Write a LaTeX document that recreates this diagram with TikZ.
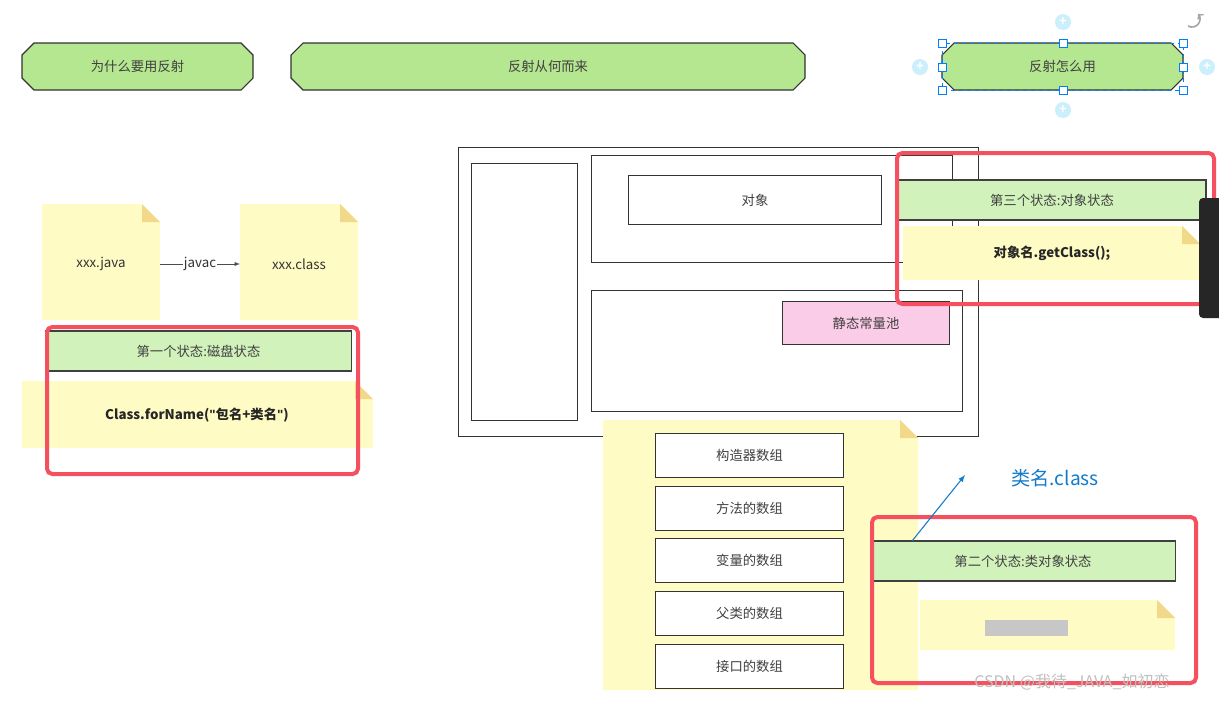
\documentclass[tikz,border=0pt]{standalone}
\usepackage{fontspec}
\setmainfont{Noto Sans CJK SC}
\newfontfamily\lat{Liberation Sans}
\begin{document}
\begin{tikzpicture}[x=0.75pt,y=-0.75pt,
  oct/.style={draw=black!80,fill=octc,line width=0.8pt},
  bar/.style={draw=black!75,fill=barc,line width=0.8pt,minimum height=30pt,font=\normalsize,text=black!75},
  box/.style={draw=black!80,fill=white,line width=0.7pt,font=\normalsize,text=black!75},
  red/.style={draw=redc,line width=3pt,rounded corners=4pt},
  handle/.style={draw=blue!50!cyan,fill=white,line width=0.6pt,minimum size=6pt,inner sep=0pt},
  plus/.style={circle,fill=cyan!20,minimum size=12pt,inner sep=0pt,text=white,font=\bfseries\small}]
\definecolor{octc}{HTML}{B5E690}
\definecolor{barc}{HTML}{D2F2BC}
\definecolor{redc}{HTML}{F5505F}
\useasboundingbox (0,0) rectangle (1219,700);
\fill[white] (0,0) rectangle (1219,700);
\definecolor{note}{HTML}{FFFBC4}
\definecolor{fold}{HTML}{F2D98A}
\def\note#1#2#3#4#5{\fill[note] (#1,#2) -- (#3-18,#2) -- (#3,#2+18) -- (#3,#4) -- (#1,#4) -- cycle;
  \fill[fold] (#3-18,#2) -- (#3,#2+18) -- (#3-18,#2+18) -- cycle;
  \node (#5) at ({(#1+#3)/2},{(#2+#4)/2}) {};}
\def\octag#1#2#3#4#5#6{\draw[oct] (#1+12,#2) -- (#3-12,#2) -- (#3,#2+12) -- (#3,#4-12) -- (#3-12,#4) -- (#1+12,#4) -- (#1,#4-12) -- (#1,#2+12) -- cycle;
  \node[font=\normalsize,text=black!75] (#6) at ({(#1+#3)/2},{(#2+#4)/2}) {#5};}
\octag{22}{43}{253}{90}{为什么要用反射}{t1}
\octag{291}{43}{805}{90}{反射从何而来}{t2}
\octag{942}{43}{1183}{90}{反射怎么用}{t3}
\draw[blue!50!cyan,dashed,line width=0.5pt] (942,43) rectangle (1183,90);
\foreach \p in {(942,43),(1063,43),(1183,43),(942,67),(1183,67),(942,90),(1063,90),(1183,90)} \node[handle] at \p {};
\foreach \p/\n in {(1063,22)/pa,(1063,110)/pb,(920,67)/pc,(1207,67)/pd} \node[plus] (\n) at \p {+};
\draw[gray!70,line width=1.2pt,->] (1188,26) arc (120:-40:8);
% left
\note{42}{204}{160}{320}{nj}
\node[font=\normalsize,text=black!80] (j) at (101,264) {xxx.java};
\note{240}{204}{358}{320}{nc}
\node[font=\normalsize,text=black!80] (c) at (299,264) {xxx.class};
\draw[black!70,-latex] (160,264) -- node[fill=white,inner sep=1pt,font=\normalsize,text=black!80] {javac} (240,264);
\node[bar,minimum width=230pt] (b1) at (198.5,351) {第一个状态:磁盘状态};
\note{22}{381}{373}{448}{n1}
\node[font=\normalsize\bfseries,text=black!85] (f1) at (197,415) {Class.forName({\lat"}包名+类名{\lat"})};
\draw[red] (47,327) rectangle (358,474);
% middle memory
\draw[box] (458,147) rectangle (978,436);
\draw[box] (471,163) rectangle (577,420);
\draw[box] (591,155) rectangle (952,262);
\node[box,minimum width=190pt,minimum height=37pt] (obj) at (755,200) {对象};
\draw[box] (591,290) rectangle (962,411);
\node[box,fill=magenta!20,minimum width=125pt,minimum height=32pt] (pool) at (866,323) {静态常量池};
\note{603}{420}{918}{690}{nb}
\foreach \y/\t/\n in {455/构造器数组/a1,508/方法的数组/a2,560/变量的数组/a3,613/父类的数组/a4,666/接口的数组/a5}
  \node[box,minimum width=141pt,minimum height=33pt] (\n) at (749.5,\y) {\t};
% third state
\node[bar,minimum width=231pt] (b3) at (1052,200) {第三个状态:对象状态};
\note{903}{226}{1200}{280}{n3}
\node[font=\normalsize\bfseries,text=black!85] (g3) at (1052,253) {对象名.getClass();};
\draw[red] (897,153) rectangle (1214,304);
\fill[black!85,rounded corners=3pt] (1199,198) rectangle (1225,318);
% second state
\node[bar,minimum width=229pt] (b2) at (1023,561) {第二个状态:类对象状态};
\note{920}{600}{1175}{650}{n2}
\fill[black!22] (985,620) rectangle (1068,636);
\draw[red] (872,517) rectangle (1196,683);
\coordinate (tip) at (965,475);
\draw[cyan!60!blue,line width=0.8pt,-latex] (912,541) -- (tip);
\node[text=cyan!60!blue,font=\Large] (lbl) at (1055,478) {类名.class};
\node[text=gray!50,font=\large] (wm) at (1072,682) {CSDN @我待\_JAVA\_如初恋};
\end{tikzpicture}
\end{document}
